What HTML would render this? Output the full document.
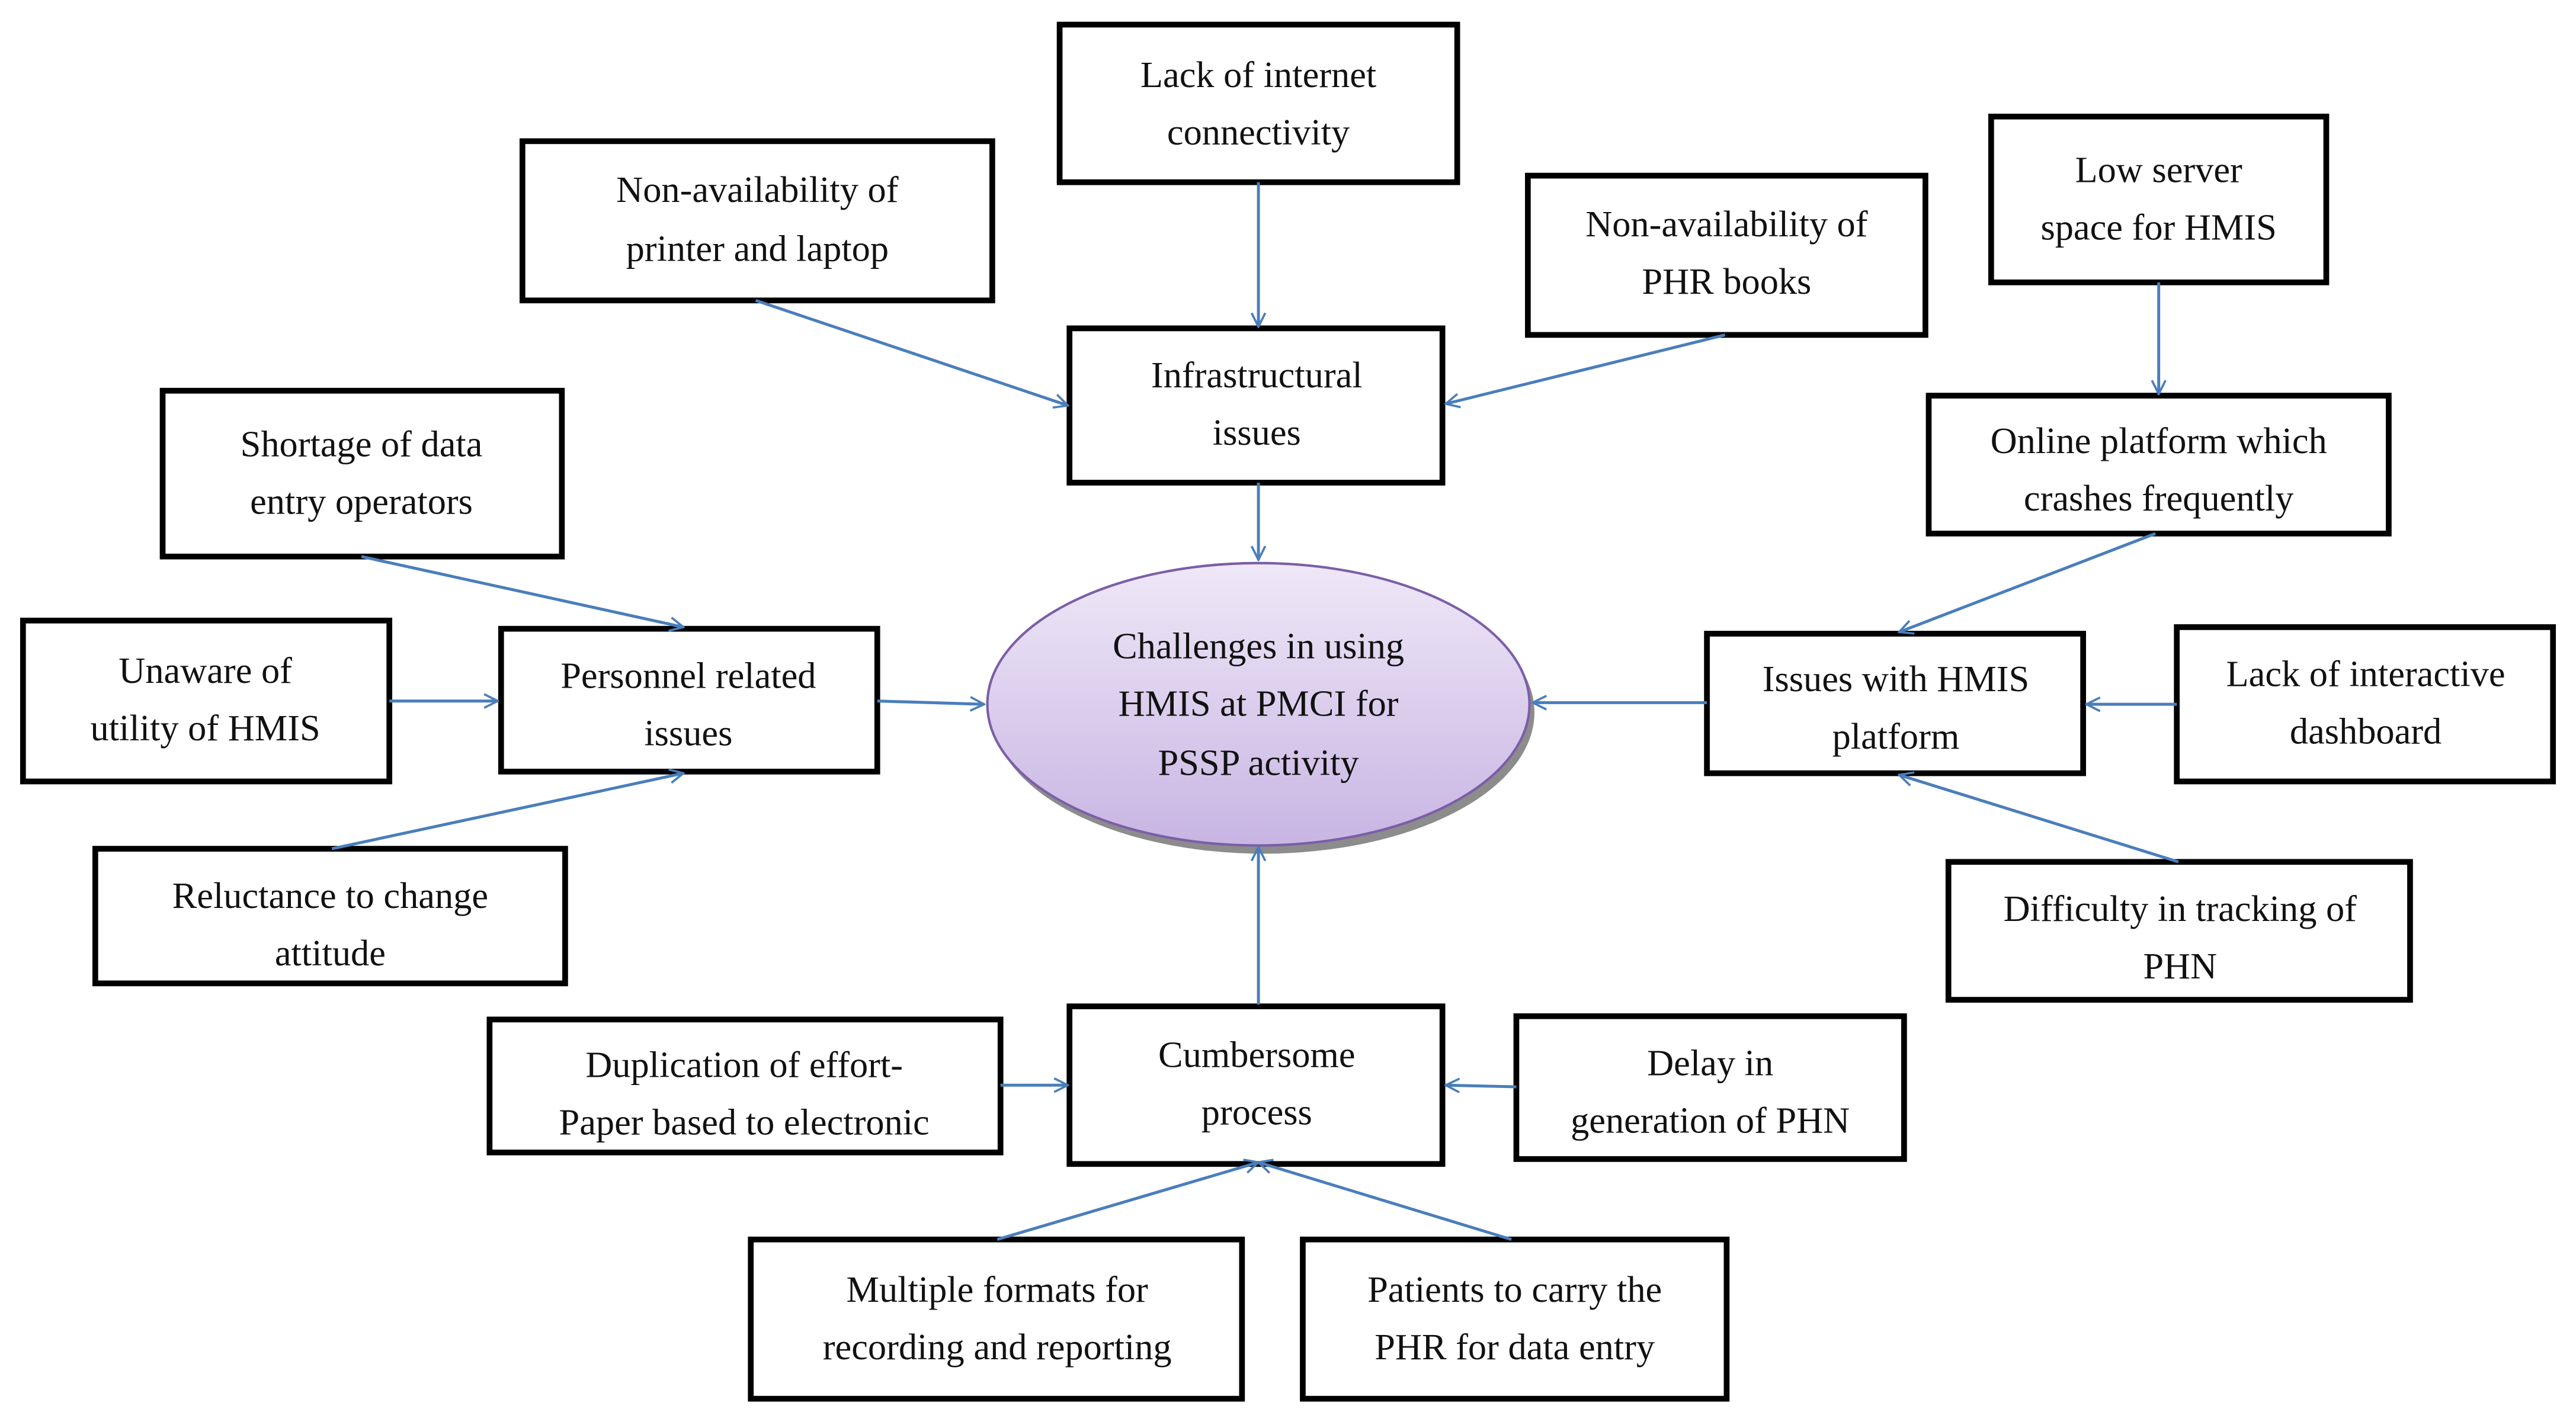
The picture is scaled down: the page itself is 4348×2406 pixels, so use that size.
<!DOCTYPE html>
<html><head><meta charset="utf-8"><style>
html,body{margin:0;padding:0;background:#fff;}
svg{display:block;}
text{font-family:"Liberation Serif",serif;font-size:22.5px;fill:#111;text-anchor:middle;}
</style></head><body>
<svg width="4348" height="2406" viewBox="0 0 1568 868" preserveAspectRatio="none" xmlns="http://www.w3.org/2000/svg">
<defs>
<marker id="a" viewBox="0 0 12 12" refX="11" refY="6" markerWidth="10" markerHeight="10" markerUnits="userSpaceOnUse" orient="auto">
<path d="M1,1 L11,6 L1,11" fill="none" stroke="#4a7ebb" stroke-width="1.6"/>
</marker>
<linearGradient id="g" x1="0" y1="0" x2="0" y2="1">
<stop offset="0" stop-color="#efe8f7"/><stop offset="1" stop-color="#c8b5e3"/>
</linearGradient>
</defs>
<g fill="#fff" stroke="#000" stroke-width="3.5">
<rect x="645" y="15" width="242" height="96"/>
<rect x="318" y="86" width="286" height="97"/>
<rect x="651" y="200" width="227" height="94"/>
<rect x="930" y="107" width="242" height="97"/>
<rect x="1212" y="71" width="204" height="101"/>
<rect x="1174" y="241" width="280" height="84"/>
<rect x="99" y="238" width="243" height="101"/>
<rect x="14" y="378" width="223" height="98"/>
<rect x="305" y="383" width="229" height="87"/>
<rect x="1039" y="386" width="229" height="85"/>
<rect x="1325" y="382" width="229" height="94"/>
<rect x="58" y="517" width="286" height="82"/>
<rect x="1186" y="525" width="281" height="84"/>
<rect x="298" y="621" width="311" height="81"/>
<rect x="651" y="613" width="227" height="96"/>
<rect x="923" y="619" width="236" height="87"/>
<rect x="457" y="755" width="299" height="97"/>
<rect x="793" y="755" width="258" height="97"/>
</g>
<ellipse cx="769" cy="434" rx="165" ry="86" fill="#8c8c8c"/>
<ellipse cx="766" cy="429" rx="165" ry="86" fill="url(#g)" stroke="#7b5ea7" stroke-width="1.5"/>
<g stroke="#4a7ebb" stroke-width="1.8" fill="none" marker-end="url(#a)">
<line x1="766" y1="111" x2="766" y2="199"/>
<line x1="460" y1="183" x2="650" y2="247"/>
<line x1="1050" y1="204" x2="880" y2="246"/>
<line x1="766" y1="294" x2="766" y2="341"/>
<line x1="1314" y1="172" x2="1314" y2="240"/>
<line x1="1312" y1="325" x2="1156" y2="385"/>
<line x1="220" y1="339" x2="416" y2="382"/>
<line x1="237" y1="427" x2="303" y2="427"/>
<line x1="202" y1="517" x2="416" y2="471"/>
<line x1="534" y1="427" x2="599" y2="429"/>
<line x1="1039" y1="428" x2="933" y2="428"/>
<line x1="1325" y1="429" x2="1270" y2="429"/>
<line x1="1326" y1="525" x2="1156" y2="472"/>
<line x1="766" y1="612" x2="766" y2="516"/>
<line x1="609" y1="661" x2="650" y2="661"/>
<line x1="923" y1="662" x2="880" y2="661"/>
<line x1="607" y1="755" x2="766" y2="708"/>
<line x1="920" y1="755" x2="766" y2="708"/>
</g>
<text x="766" y="53">Lack of internet</text><text x="766" y="88">connectivity</text>
<text x="461" y="123">Non-availability of</text><text x="461" y="159">printer and laptop</text>
<text x="765" y="236">Infrastructural</text><text x="765" y="271">issues</text>
<text x="1051" y="144">Non-availability of</text><text x="1051" y="179">PHR books</text>
<text x="1314" y="111">Low server</text><text x="1314" y="146">space for HMIS</text>
<text x="1314" y="276">Online platform which</text><text x="1314" y="311">crashes frequently</text>
<text x="220" y="278">Shortage of data</text><text x="220" y="313">entry operators</text>
<text x="125" y="416">Unaware of</text><text x="125" y="451">utility of HMIS</text>
<text x="419" y="419">Personnel related</text><text x="419" y="454">issues</text>
<text x="1154" y="421">Issues with HMIS</text><text x="1154" y="456">platform</text>
<text x="1440" y="418">Lack of interactive</text><text x="1440" y="453">dashboard</text>
<text x="201" y="553">Reluctance to change</text><text x="201" y="588">attitude</text>
<text x="1327" y="561">Difficulty in tracking of</text><text x="1327" y="596">PHN</text>
<text x="453" y="656">Duplication of effort-</text><text x="453" y="691">Paper based to electronic</text>
<text x="765" y="650">Cumbersome</text><text x="765" y="685">process</text>
<text x="1041" y="655">Delay in</text><text x="1041" y="690">generation of PHN</text>
<text x="607" y="793">Multiple formats for</text><text x="607" y="828">recording and reporting</text>
<text x="922" y="793">Patients to carry the</text><text x="922" y="828">PHR for data entry</text>
<text x="766" y="401">Challenges in using</text>
<text x="766" y="436">HMIS at PMCI for</text>
<text x="766" y="472">PSSP activity</text>
</svg>
</body></html>
